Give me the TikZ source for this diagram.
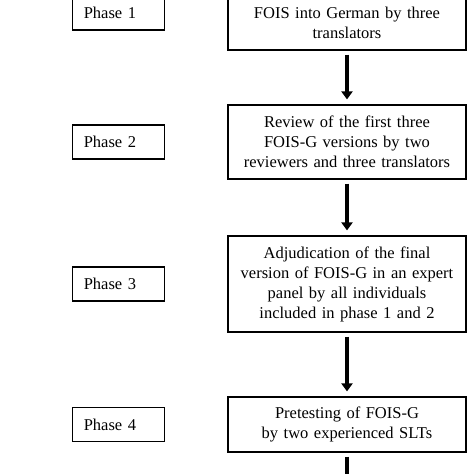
\documentclass[tikz,border=0pt]{standalone}
\usepackage{fontspec}
\setmainfont{Liberation Serif}
\usetikzlibrary{positioning,arrows.meta}
\tikzset{
	stagebox/.style={draw,line width=1.2pt,text width=226pt,align=center,inner xsep=6pt,inner ysep=9pt,font=\fontsize{16.5}{20}\selectfont},
	phasebox/.style={draw,line width=1.2pt,text width=70pt,align=left,inner xsep=11pt,inner ysep=9pt,minimum height=34pt,font=\fontsize{16.5}{20}\selectfont},
	flow/.style={line width=4pt,-{Triangle[length=8pt,width=11pt]},shorten <=4pt,shorten >=5pt}
}
\begin{document}
\begin{tikzpicture}[x=1pt,y=-1pt]
	\useasboundingbox (0,0) rectangle (474,474);
	\clip (0,0) rectangle (474,474);
	% stages
	\node[stagebox,minimum height=62pt] (s1) at (347,19) {\mbox{}\\FOIS into German by three\\translators};
	\node[stagebox,minimum height=74pt] (s2) at (347,142) {Review of the first three\\FOIS-G versions by two\\reviewers and three translators};
	\node[stagebox,minimum height=96pt] (s3) at (347,284) {Adjudication of the final\\version of FOIS-G in an expert\\panel by all individuals\\included in phase 1 and 2};
	\node[stagebox,minimum height=55pt] (s4) at (347,424.5) {Pretesting of FOIS-G\\by two experienced SLTs};
	\coordinate (s5) at (347,520);
	% phases
	\coordinate (p1pos) at (s1.west|-0,13);
	\node[phasebox,left=62pt of p1pos] (p1) {Phase 1};
	\node[phasebox,left=62pt of s2] (p2) {Phase 2};
	\node[phasebox,left=62pt of s3] (p3) {Phase 3};
	\node[phasebox,left=62pt of s4] (p4) {Phase 4};
	% arrows
	\draw[flow] (s1) -- (s2);
	\draw[flow] (s2) -- (s3);
	\draw[flow] (s3) -- (s4);
	\draw[flow] (s4) -- (s5);
\end{tikzpicture}
\end{document}
